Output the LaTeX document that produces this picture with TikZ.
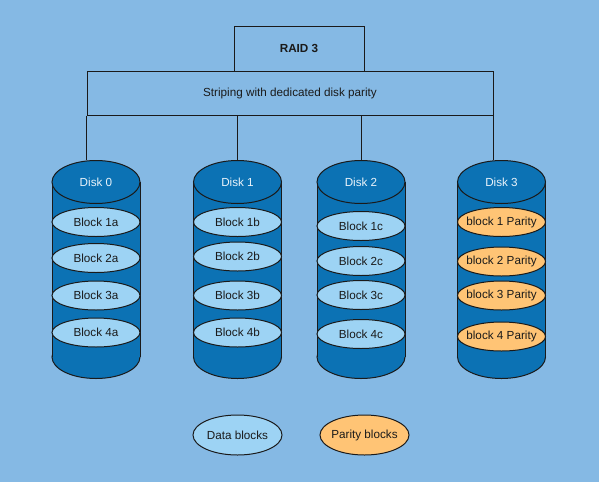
\documentclass[tikz,border=0pt]{standalone}
\usepackage{fontspec}
\setmainfont{Liberation Sans}
\usetikzlibrary{shapes.geometric}
\definecolor{bg}{HTML}{85B9E4}
\definecolor{cyl}{HTML}{0C72B4}
\definecolor{blkfill}{HTML}{9DD3F4}
\definecolor{parfill}{HTML}{FFC475}
\definecolor{ink}{HTML}{1A1A1A}
\definecolor{disktext}{HTML}{EAF3FA}
\begin{document}
\begin{tikzpicture}[x=1pt,y=-1pt,
  every node/.style={font=\fontsize{11.7}{14}\selectfont, text=ink},
  stroke/.style={draw=ink, line width=1pt},
  boxnode/.style={stroke, rectangle, inner sep=0pt},
  disktop/.style={stroke, ellipse, fill=cyl, minimum width=88pt, minimum height=43pt, inner sep=0pt, text=disktext},
  blk/.style={stroke, ellipse, fill=blkfill, minimum width=88pt, minimum height=29pt, inner sep=0pt, inner xsep=-10pt},
  par/.style={stroke, ellipse, fill=parfill, minimum width=88pt, minimum height=29pt, inner sep=0pt, inner xsep=-10pt},
  legend/.style={stroke, ellipse, minimum width=89pt, minimum height=40pt, inner sep=0pt, inner xsep=-10pt},
  conn/.style={stroke}]
\fill[bg] (0,0) rectangle (599,482);
\useasboundingbox (0,0) rectangle (599,482);

% header boxes
\node[boxnode, minimum width=130pt, minimum height=45pt, font=\fontsize{11.7}{14}\selectfont\bfseries] (raid) at (299,48.5) {RAID 3};
\node[boxnode, minimum width=406pt, minimum height=44pt] (stripe) at (290,93) {Striping with dedicated disk parity};

% cylinder bodies
\foreach \c in {96,237.5,361,501.5} {
  \draw[stroke, fill=cyl] (\c,357) ellipse[x radius=44, y radius=21.5];
  \fill[cyl] (\c-44,182) rectangle (\c+44,357);
  \draw[stroke] (\c-44,182) -- (\c-44,357) (\c+44,182) -- (\c+44,357);
}

% disk tops
\node[disktop] (disk0) at (96,182) {Disk 0};
\node[disktop] (disk1) at (237.5,182) {Disk 1};
\node[disktop] (disk2) at (361,182) {Disk 2};
\node[disktop] (disk3) at (501.5,182) {Disk 3};

% connectors
\draw[conn] (stripe.south west) -- (disk0.north -| stripe.south west);
\draw[conn] (disk1.north |- stripe.south) -- (disk1.north);
\draw[conn] (disk2.north |- stripe.south) -- (disk2.north);
\draw[conn] (stripe.south east) -- (disk3.north -| stripe.south east);

% blocks disk 0
\node[blk] (b1a) at (96,222) {Block 1a};
\node[blk] (b2a) at (96,258) {Block 2a};
\node[blk] (b3a) at (96,295.5) {Block 3a};
\node[blk] (b4a) at (96,332.5) {Block 4a};
% disk 1
\node[blk] (b1b) at (237.5,222) {Block 1b};
\node[blk] (b2b) at (237.5,256.5) {Block 2b};
\node[blk] (b3b) at (237.5,295.5) {Block 3b};
\node[blk] (b4b) at (237.5,332.5) {Block 4b};
% disk 2
\node[blk] (b1c) at (361,226) {Block 1c};
\node[blk] (b2c) at (361,261) {Block 2c};
\node[blk] (b3c) at (361,295) {Block 3c};
\node[blk] (b4c) at (361,334) {Block 4c};
% disk 3
\node[par] (p1) at (501.5,222) {block 1 Parity};
\node[par] (p2) at (501.5,261.5) {block 2 Parity};
\node[par] (p3) at (501.5,295.5) {block 3 Parity};
\node[par] (p4) at (501.5,336.5) {block 4 Parity};

% legend
\node[legend, fill=blkfill] (ldata) at (237.5,435) {Data blocks};
\node[legend, fill=parfill] (lpar) at (364.5,435) {Parity blocks};
\end{tikzpicture}
\end{document}
